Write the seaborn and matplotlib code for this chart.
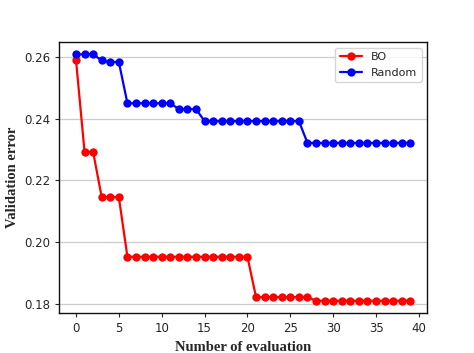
import pandas as pd
import matplotlib.pyplot as plt
import seaborn as sns
import numpy as np

# Validation error per evaluation
evals = list(range(40))
bo_err = [0.2593, 0.2293, 0.2293, 0.2146, 0.2146, 0.2146] + [0.1952] * 15 + [0.1821] * 7 + [0.1809] * 12
random_err = [0.2610, 0.2610, 0.2610, 0.2590, 0.2585, 0.2585] + [0.2451] * 6 + [0.2432] * 3 + [0.2393] * 12 + [0.2322] * 13

df = pd.DataFrame({
    'Evaluation': evals * 2,
    'Error': bo_err + random_err,
    'Method': ['BO'] * 40 + ['Random'] * 40,
})

sns.set_style('ticks')

fig = plt.figure(figsize=(4.74, 3.53), dpi=100)
ax = fig.add_axes([0.125, 0.113, 0.776, 0.768])

sns.lineplot(
    data=df, x='Evaluation', y='Error', hue='Method',
    palette={'BO': 'red', 'Random': 'blue'},
    marker='o', markersize=6, markeredgewidth=0, linewidth=1.6, ax=ax,
)

ax.yaxis.grid(True, color='#cccccc', linewidth=0.9)
ax.set_axisbelow(True)
ax.set_xticks(range(0, 41, 5))
ax.set_yticks([0.18, 0.20, 0.22, 0.24, 0.26])
ax.tick_params(labelsize=8.5, length=3, width=0.8)
for s in ax.spines.values():
    s.set_linewidth(1.0)
    s.set_color('#111111')

ax.set_xlabel('Number of evaluation', fontsize=10.5, fontweight='bold', family='Liberation Serif')
ax.set_ylabel('Validation error', fontsize=10.5, fontweight='bold', family='Liberation Serif')

leg = ax.legend(loc='upper right', fontsize=8, title=None, frameon=True)
leg.get_frame().set_edgecolor('#cccccc')

plt.savefig('out.png', dpi=100)
